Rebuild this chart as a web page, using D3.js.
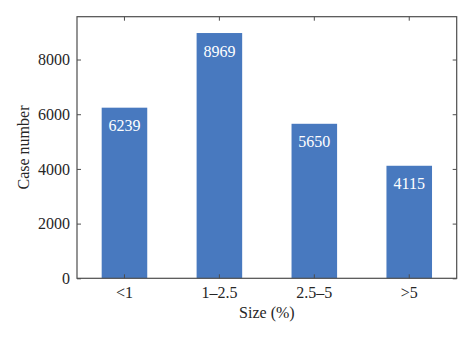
<!DOCTYPE html>
<html><head><meta charset="utf-8">
<script src="https://cdn.jsdelivr.net/npm/d3@7"></script>
<style>body{margin:0;background:#fff}</style>
</head><body>
<svg id="c" width="474" height="338"></svg>
<script>
const categories = ["<1", "1\u20132.5", "2.5\u20135", ">5"];
const values = [6239, 8969, 5650, 4115];
const yTicks = [0, 2000, 4000, 6000, 8000];
const yLabel = "Case number";
const xLabel = "Size (%)";

const svg = d3.select("#c");
const m = {l: 77, r: 474 - 456.7, t: 16.7, b: 338 - 278.3};
const W = 474, H = 338;
const font = "'Liberation Serif', 'Times New Roman', serif";
const textCol = "#262626", axisCol = "#4d4d4d";

const x = d3.scaleBand().domain(categories).range([m.l, W - m.r]).paddingInner(0.52).paddingOuter(0.26);
const y = d3.scaleLinear().domain([0, 9566]).range([H - m.b, m.t]);

const g = svg.append("g");
g.selectAll("rect.bar").data(values).join("rect")
  .attr("class", "bar")
  .attr("x", (d, i) => x(categories[i]))
  .attr("width", x.bandwidth())
  .attr("y", d => y(d))
  .attr("height", d => y(0) - y(d))
  .attr("fill", "#4879bf");

g.selectAll("text.val").data(values).join("text")
  .attr("class", "val")
  .attr("x", (d, i) => x(categories[i]) + x.bandwidth() / 2)
  .attr("y", d => y(d) + 23.5)
  .attr("text-anchor", "middle")
  .attr("fill", "#fff")
  .attr("font-family", font).attr("font-size", 16)
  .text(d => d);

function styleAxis(sel, showText) {
  sel.select(".domain").remove();
  sel.selectAll(".tick line").attr("stroke", axisCol);
  sel.selectAll(".tick text").attr("font-family", font).attr("font-size", 16).attr("fill", textCol);
  if (!showText) sel.selectAll(".tick text").remove();
}

// bottom axis
svg.append("g").attr("transform", `translate(0,${H - m.b})`)
  .call(d3.axisBottom(x).tickSize(-4).tickPadding(8))
  .call(s => styleAxis(s, true));
// top axis ticks
svg.append("g").attr("transform", `translate(0,${m.t})`)
  .call(d3.axisTop(x).tickSize(-4))
  .call(s => styleAxis(s, false));
// left axis
svg.append("g").attr("transform", `translate(${m.l},0)`)
  .call(d3.axisLeft(y).tickValues(yTicks).tickSize(-4).tickPadding(7).tickFormat(d3.format("d")))
  .call(s => styleAxis(s, true));
// right axis ticks
svg.append("g").attr("transform", `translate(${W - m.r},0)`)
  .call(d3.axisRight(y).tickValues(yTicks).tickSize(-4))
  .call(s => styleAxis(s, false));

// frame
svg.append("rect").attr("x", m.l).attr("y", m.t)
  .attr("width", W - m.r - m.l).attr("height", H - m.b - m.t)
  .attr("fill", "none").attr("stroke", axisCol).attr("stroke-width", 1.2);

svg.append("text")
  .attr("transform", `translate(23,${(m.t + H - m.b) / 2}) rotate(-90)`)
  .attr("text-anchor", "middle").attr("dominant-baseline", "central")
  .attr("font-family", font).attr("font-size", 16).attr("fill", textCol)
  .text(yLabel);
svg.append("text")
  .attr("x", (m.l + W - m.r) / 2).attr("y", 318)
  .attr("text-anchor", "middle")
  .attr("font-family", font).attr("font-size", 16).attr("fill", textCol)
  .text(xLabel);
</script>
</body></html>
